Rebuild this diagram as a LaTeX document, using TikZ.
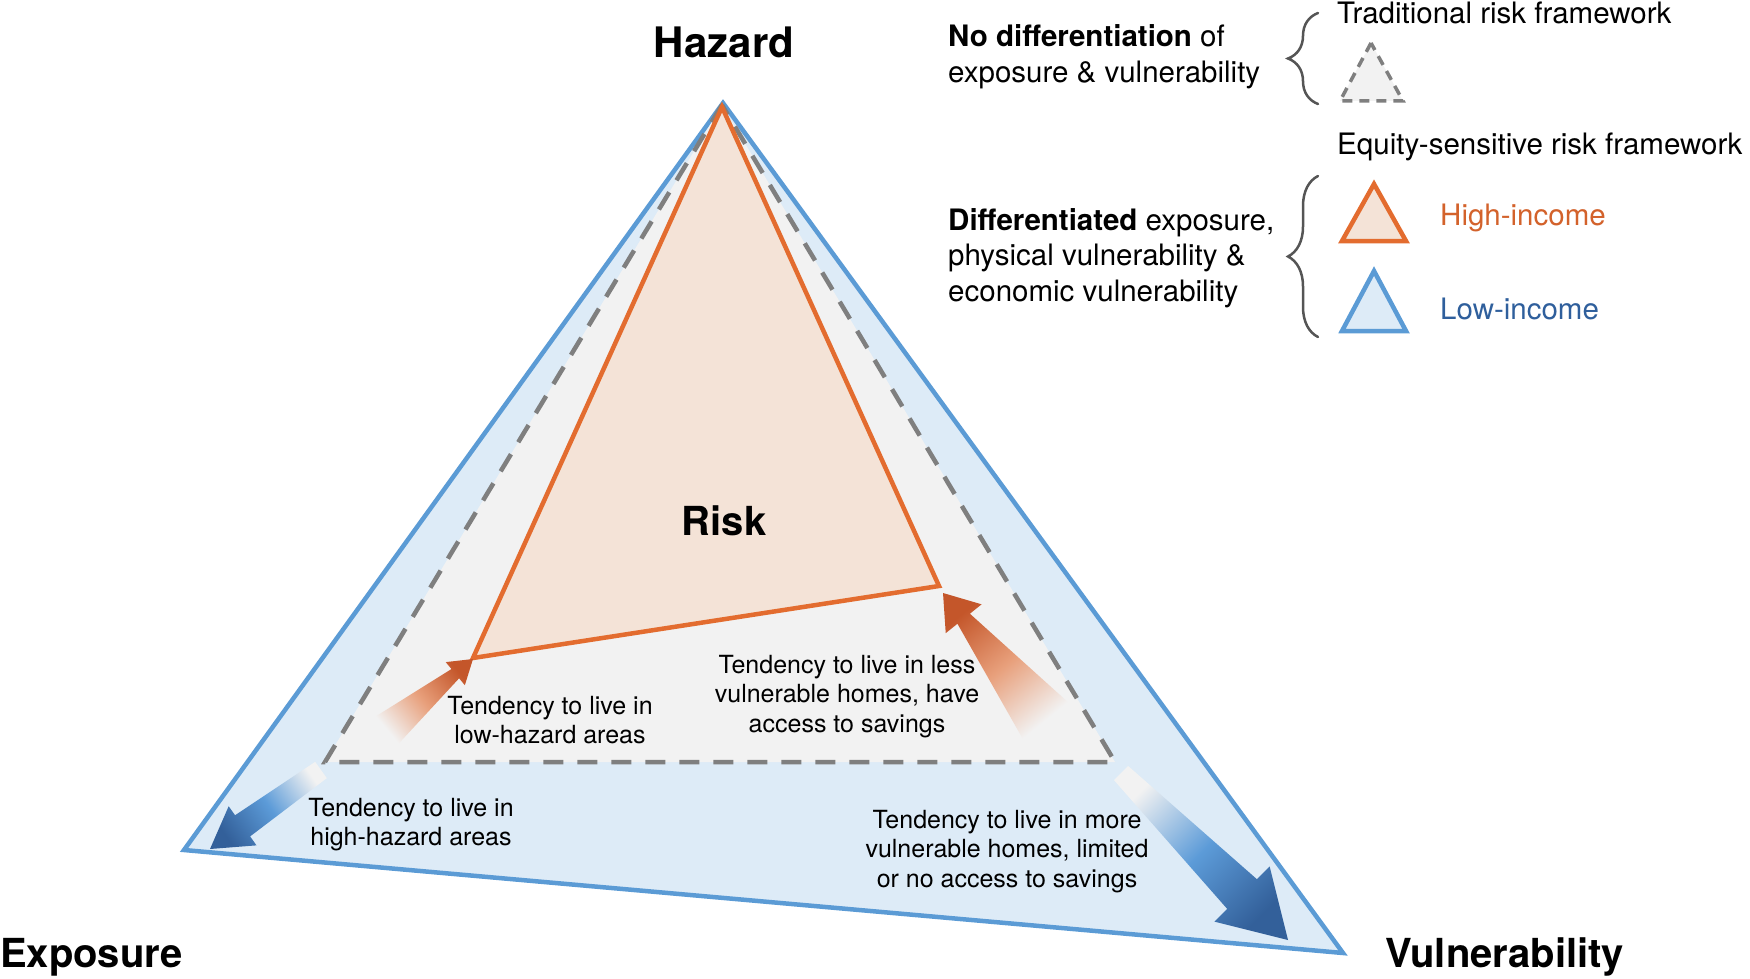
\documentclass[tikz,border=0pt]{standalone}
\usepackage{fontspec}
\setmainfont{TeX Gyre Heros}
\usetikzlibrary{calc,decorations.pathreplacing}
\definecolor{riskblue}{HTML}{5B9BD5}
\definecolor{riskbluefill}{HTML}{DDEBF7}
\definecolor{riskorange}{HTML}{E36C2F}
\definecolor{riskorangefill}{HTML}{F4E3D7}
\definecolor{dashgray}{HTML}{7F7F7F}
\definecolor{grayfill}{HTML}{F2F2F2}
\definecolor{bracegray}{HTML}{555555}
\definecolor{hightext}{HTML}{D3622B}
\definecolor{lowtext}{HTML}{2F5F9C}
\definecolor{arroworange}{HTML}{C4562A}
\definecolor{arroworangemid}{HTML}{E8A07C}
\definecolor{arrowblue}{HTML}{33609A}
\definecolor{arrowbluemid}{HTML}{5C9BD8}
\tikzset{
  bigword/.style={font=\fontsize{40}{48}\selectfont\bfseries, inner sep=0pt},
  tendency/.style={font=\fontsize{25}{29.5}\selectfont, align=center, inner sep=0pt, anchor=base},
  legendtext/.style={font=\fontsize{29.5}{35.5}\selectfont, align=left, inner sep=0pt, anchor=base west},
  bluetri/.style={draw=riskblue, fill=riskbluefill, line width=4.5pt},
  graytri/.style={draw=dashgray, fill=grayfill, line width=4.5pt, dash pattern=on 20pt off 14pt},
  orangetri/.style={draw=riskorange, fill=riskorangefill, line width=4.5pt},
  keygray/.style={draw=dashgray, fill=grayfill, line width=3.5pt, dash pattern=on 10pt off 7pt},
  keyorange/.style={draw=riskorange, fill=riskorangefill, line width=4.5pt},
  keyblue/.style={draw=riskblue, fill=riskbluefill, line width=4.5pt},
  legendbrace/.style={draw=bracegray, line width=2.5pt, line cap=round, decorate, decoration={brace, amplitude=30pt}},
  orangeshade/.style={top color=arroworange, bottom color=grayfill, middle color=arroworangemid},
  blueshade/.style={top color=arrowblue, bottom color=grayfill, middle color=arrowbluemid}
}
% wedge arrow: [shade] {tail} {tip} {tail half width} {neck half width} {head half width} {head length}
\newcommand{\fatarrow}[7][]{%
  \coordinate (neck) at ($(#3)!#7!(#2)$);
  \shade[#1] ($(#2)!#4!90:(#3)$) -- ($(neck)!#5!-90:(#2)$) -- ($(neck)!#6!-90:(#2)$) -- (#3)
    -- ($(neck)!#6!90:(#2)$) -- ($(neck)!#5!90:(#2)$) -- ($(#2)!#4!-90:(#3)$) -- cycle;}

\begin{document}
\begin{tikzpicture}[x=1pt, y=-1pt]
\useasboundingbox (0,0) rectangle (1750,979);

% corners of the three triangles
\coordinate (bH) at (723,103);
\coordinate (bE) at (184,850);
\coordinate (bV) at (1343,953);
\coordinate (gH) at (722,105);
\coordinate (gE) at (325,762);
\coordinate (gV) at (1115,762);
\coordinate (oH) at (722,107);
\coordinate (oE) at (473,658);
\coordinate (oV) at (939,586);

\draw[bluetri] (bH) -- (bE) -- (bV) -- cycle;
\draw[graytri] (gH) -- (gE) -- (gV) -- cycle;
\draw[orangetri] (oH) -- (oE) -- (oV) -- cycle;

% shifting arrows
\coordinate (loTail) at (386,731);
\coordinate (loTip) at (473,659);
\coordinate (roTail) at (1045,720);
\coordinate (roTip) at (943,593);
\coordinate (lbTail) at (321,770);
\coordinate (lbTip) at (210,849);
\coordinate (rbTail) at (1121,773);
\coordinate (rbTip) at (1288,940);
\fatarrow[orangeshade, shading angle=-50]{loTail}{loTip}{18pt}{6pt}{15pt}{23pt}
\fatarrow[orangeshade, shading angle=39]{roTail}{roTip}{29pt}{8pt}{23pt}{33pt}
\fatarrow[blueshade, shading angle=125]{lbTail}{lbTip}{10pt}{13pt}{24pt}{40pt}
\fatarrow[blueshade, shading angle=-135]{rbTail}{rbTip}{10pt}{21pt}{39pt}{65pt}

\node[bigword, font=\fontsize{42}{48}\selectfont\bfseries] (hazard) at (724,42) {Hazard};
\node[bigword] (risk) at (724,521) {Risk};
\node[bigword, anchor=base west] (exposure) at (0,967) {Exposure};
\node[bigword, anchor=base west] (vulnerability) at (1385,967) {Vulnerability};

% multi-line nodes sit on the baseline of their last line
\node[tendency] (lowhaz) at (550,743.5) {Tendency to live in\\low-hazard areas};
\node[tendency] (lessvul) at (847,732) {Tendency to live in less\\vulnerable homes, have\\access to savings};
\node[tendency] (highhaz) at (411,845.5) {Tendency to live in\\high-hazard areas};
\node[tendency] (morevul) at (1007,887) {Tendency to live in more\\vulnerable homes, limited\\or no access to savings};

% legend
\node[legendtext] (tradtitle) at (1337,24) {Traditional risk framework};
\node[legendtext] (nodiff) at (948,82.5) {\textbf{No differentiation} of\\exposure \& vulnerability};
\coordinate (brace1a) at (1318,104);
\coordinate (brace1b) at (1318,13);
\draw[legendbrace] (brace1a) -- (brace1b);
\draw[keygray] (1371,43) -- (1340,101) -- (1403,101) -- cycle;

\node[legendtext] (equitytitle) at (1337,154) {Equity-sensitive risk framework};
\node[legendtext] (diff) at (948,301) {\textbf{Differentiated} exposure,\\physical vulnerability \&\\economic vulnerability};
\coordinate (brace2a) at (1318,337);
\coordinate (brace2b) at (1318,176);
\draw[legendbrace] (brace2a) -- (brace2b);
\draw[keyorange] (1374,184) -- (1342,241) -- (1406,241) -- cycle;
\draw[keyblue] (1374,271) -- (1342,331) -- (1406,331) -- cycle;
\node[legendtext, text=hightext] (high) at (1440,225) {High-income};
\node[legendtext, text=lowtext] (low) at (1440,319) {Low-income};
\end{tikzpicture}
\end{document}
